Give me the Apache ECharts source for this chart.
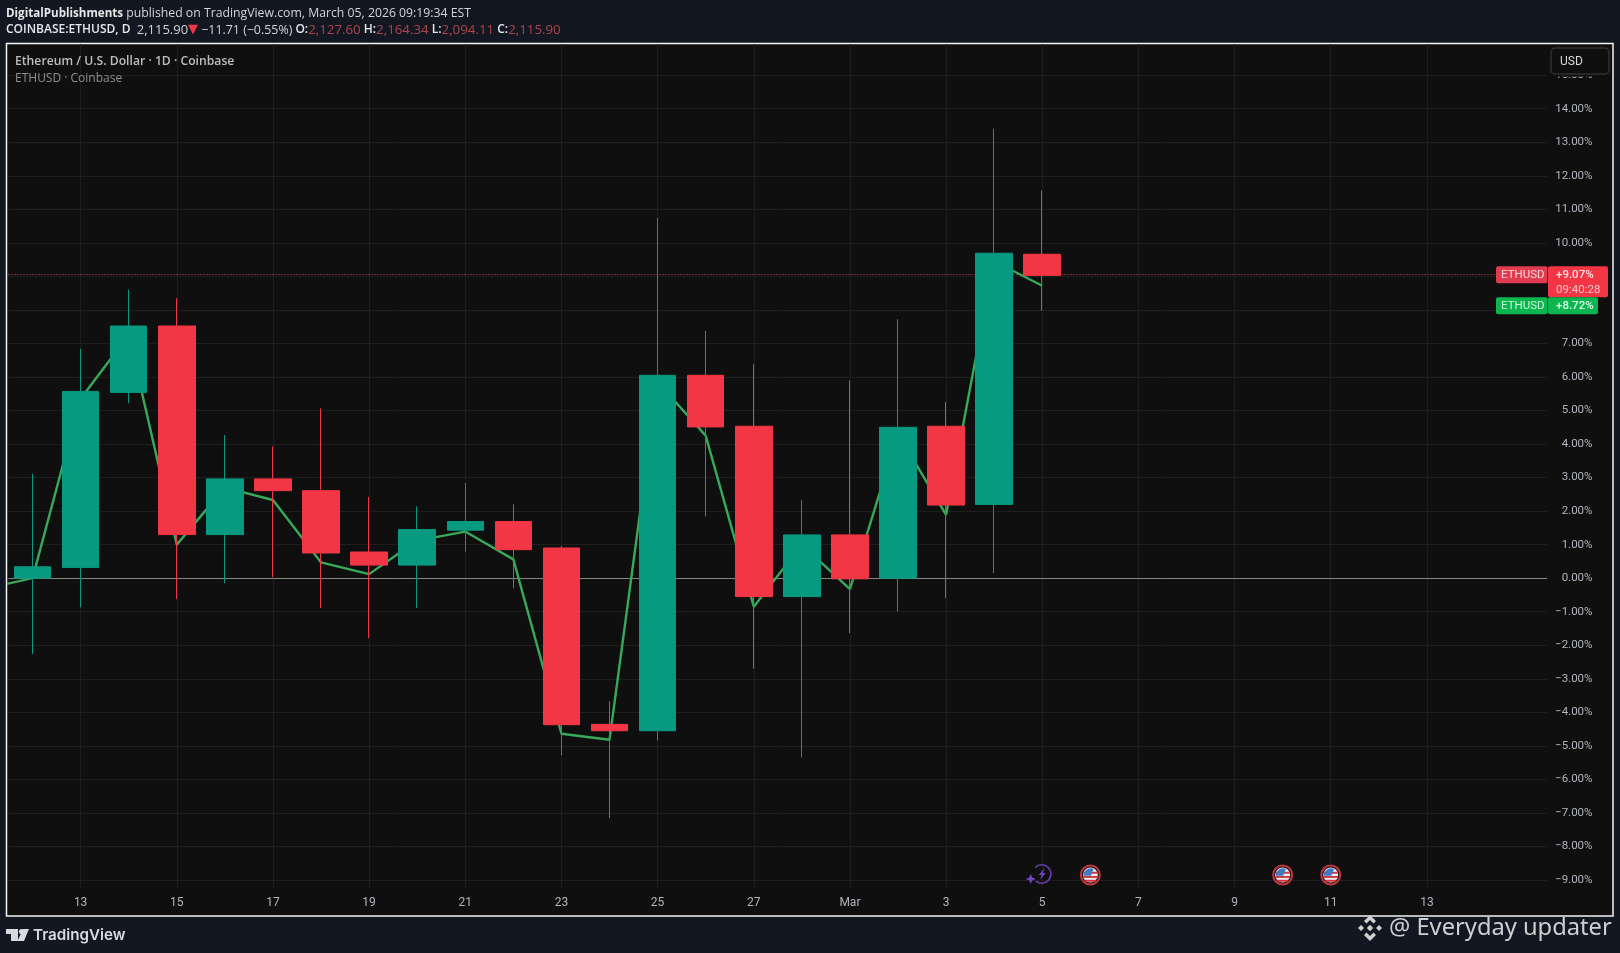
<!DOCTYPE html>
<html>
<head>
<meta charset="utf-8">
<style>html,body{margin:0;padding:0;background:#131722;}#c{width:1620px;height:953px;}</style>
<script src="https://cdn.jsdelivr.net/npm/echarts@6/dist/echarts.min.js"></script>
</head>
<body>
<div id="c"></div>
<script>
// Day labels along the time axis (12 Feb .. 15 Mar 2026)
const dayLabels = ['12','13','14','15','16','17','18','19','20','21','22','23','24','25','26','27','28','Mar','2','3','4','5','6','7','8','9','10','11','12','13','14','15'];
// Candle values in % against the first visible close
const opens  = [0,0.32,5.54,7.52,1.3,2.96,2.61,0.78,0.39,1.43,1.69,0.9,-4.36,-4.55,6.05,4.53,-0.55,1.29,0,4.53,2.2,9.66];
const closes = [0.34,5.57,7.52,1.3,2.96,2.61,0.75,0.39,1.45,1.69,0.85,-4.37,-4.55,6.05,4.51,-0.55,1.29,-0.02,4.5,2.18,9.69,9.03];
const lows   = [-2.26,-0.87,5.22,-0.62,-0.15,0.03,-0.89,-1.79,-0.89,0.79,-0.3,-5.28,-7.16,-4.84,1.84,-2.7,-5.35,-1.64,-0.99,-0.6,0.15,7.97];
const highs  = [3.11,6.84,8.6,8.35,4.27,3.93,5.06,2.42,2.14,2.84,2.2,0.96,-3.67,10.74,7.38,6.39,2.33,5.9,7.72,5.25,13.4,11.56];
// Comparison line, first value is the day before the first visible candle
const lineValues = [-0.32,0,5.35,7.25,1.0,2.7,2.33,0.47,0.12,1.12,1.39,0.56,-4.64,-4.82,5.85,4.25,-0.85,1.0,-0.33,4.31,1.89,9.45,8.72];
const yTicks = [-9,-8,-7,-6,-5,-4,-3,-2,-1,0,1,2,3,4,5,6,7,8,9,10,11,12,13,14,15];
const lastPrice = 9.07, lineLast = 8.72;
const flagDays = [22,26,27];   // US event icons, index into dayLabels
const boltDay = 21;            // earnings-style icon

const UP='#089981', DOWN='#f23645', GRID='#1e1e1e', TXT='#b2b5be';
const FONT='"Open Sans","Noto Sans",Roboto,sans-serif';
const chart = echarts.init(document.getElementById('c'),null,{renderer:'canvas'});

const fmtPct = v => (v<0?'\u2212':'')+Math.abs(v).toFixed(2)+'%';
const showDay = i => i%2===1 && i<31;

chart.setOption({
  animation:false,
  backgroundColor:'#131722',
  grid:[
    {show:true,left:6.5,top:43.5,width:1606.5,height:872.5,backgroundColor:'#0f0f0f',borderColor:'#f4f4f4',borderWidth:1.5},
    {left:8.5,top:44,right:72.9,bottom:65}
  ],
  xAxis:[
    {gridIndex:0,type:'value',show:false,min:0,max:1},
    {gridIndex:1,type:'category',data:dayLabels,boundaryGap:true,
      axisLine:{show:false},axisTick:{show:false},
      axisLabel:{color:TXT,fontFamily:'Roboto',fontSize:12,margin:9,interval:showDay},
      splitLine:{show:true,alignWithLabel:true,interval:showDay,lineStyle:{color:GRID,width:1}}},
    {gridIndex:1,type:'value',show:false,min:-0.5,max:31.5}
  ],
  yAxis:[
    {gridIndex:0,type:'value',show:false,min:0,max:1},
    {gridIndex:1,type:'value',position:'right',min:-9.24,max:15.93,
      axisLine:{show:false},
      axisTick:{show:false,customValues:yTicks},
      axisLabel:{customValues:yTicks,color:TXT,fontFamily:'Roboto',fontSize:11.5,align:'right',margin:45.4,padding:[2,0,0,0],formatter:fmtPct},
      splitLine:{show:true,lineStyle:{color:GRID,width:1}}}
  ],
  series:[
    {type:'line',xAxisIndex:2,yAxisIndex:1,z:1,symbol:'none',clip:true,
      data:lineValues.map((v,i)=>[i-1,v]),
      lineStyle:{color:'#38a85a',width:2.4},
      markLine:{silent:true,z:1,symbol:'none',label:{show:false},animation:false,
        data:[
          {yAxis:0,lineStyle:{color:'#85887f',type:'solid',width:1}},
          {yAxis:lastPrice,lineStyle:{color:'#d0505c',type:[1,2],width:1}}
        ]}
    },
    {type:'candlestick',xAxisIndex:1,yAxisIndex:1,z:3,barWidth:37,
      data:opens.map((o,i)=>[o,closes[i],lows[i],highs[i]]),
      itemStyle:{color:UP,color0:DOWN,borderColor:UP,borderColor0:DOWN,borderWidth:1}
    }
  ]
});

// --- annotation layer, positioned through the chart's scales where it follows data
const yPx = v => chart.convertToPixel({yAxisIndex:1},v);
const xPx = i => chart.convertToPixel({xAxisIndex:1},i);
const Z = 50;
const txt = (x,y,rich,extra) => Object.assign({type:'text',z:Z+5,x,y,silent:true,style:Object.assign({text:rich,verticalAlign:'middle',fontFamily:FONT},extra||{})});
const rect = (x,y,w,h,fill,r,stroke,z) => ({type:'rect',z:z||Z,silent:true,shape:{x,y,width:w,height:h,r:r||0},style:{fill:fill,stroke:stroke||null,lineWidth:stroke?1.5:0}});
const poly = (pts,fill) => ({type:'polygon',z:Z,silent:true,shape:{points:pts},style:{fill}});
const circ = (cx,cy,r,fill,stroke,lw) => ({type:'circle',z:Z+1,silent:true,shape:{cx,cy,r},style:{fill:fill||'none',stroke:stroke||null,lineWidth:lw||0}});

const els = [];
// header
els.push(txt(6,13.5,'{b|DigitalPublishments} {n|published on TradingView.com, March 05, 2026 09:19:34 EST}',{rich:{
  b:{fontFamily:FONT,fontSize:11.6,fontWeight:700,fill:'#e6e6e6'},n:{fontFamily:FONT,fontSize:12.25,fill:'#d4d4d4'}}}));
els.push(txt(6,30,'{b|COINBASE:ETHUSD, D}  {v|2,115.90}{r|\u25BC} {n|\u221211.71 (\u22120.55%)} {b|O:}{m|2,127.60} {b|H:}{m|2,164.34} {b|L:}{m|2,094.11} {b|C:}{m|2,115.90}',{rich:{
  b:{fontFamily:FONT,fontSize:12,fontWeight:600,fill:'#e6e6e6'},n:{fontFamily:FONT,fontSize:12.4,fill:'#d4d4d4'},v:{fontFamily:FONT,fontSize:13,fill:'#d4d4d4'},
  r:{fontFamily:'"DejaVu Sans"',fontSize:13,fill:'#f23645'},m:{fontFamily:FONT,fontSize:13.3,fill:'#b0434a'}}}));
// pane legend
els.push(txt(15,61.5,'Ethereum / U.S. Dollar \u00B7 1D \u00B7 Coinbase',{fontSize:12.2,fontWeight:600,fill:'#bdbdbd'}));
els.push(txt(15,78.5,'ETHUSD \u00B7 Coinbase',{fontSize:12,fill:'#8f8f8f'}));
// USD box
els.push(rect(1549,46,62,30.5,'#0f0f0f',0,null,Z));
els.push(rect(1551,48,58,26,'#0f0f0f',4,'#2f2f2f',Z+1));
els.push(txt(1560,62,'USD',{fontFamily:'Roboto',fontSize:12,fill:'#d8d8d8'}));
// price tags
const yP = yPx(lastPrice)+0.8;
const yT = yP + 31;   // the second tag is pushed below the first, as on the source chart
els.push(rect(1496,yP-8.5,51.5,17,'#e03c50',2));
els.push(txt(1501,yP,'ETHUSD',{fontFamily:'Roboto',fontSize:11.5,fill:'#ffd5da'}));
els.push(rect(1548,yP-8.5,60,31,'#f23645',2));
els.push(txt(1556,yP+0.5,'+'+fmtPct(lastPrice),{fontFamily:'Roboto',fontSize:11.5,fontWeight:500,fill:'#ffe4e6'}));
els.push(txt(1556,yP+15,'09:40:28',{fontFamily:'Roboto',fontSize:11.5,fill:'#ffc4ca'}));
els.push(rect(1496,yT-8.5,51.5,17,'#0bb54f',2));
els.push(txt(1501,yT,'ETHUSD',{fontFamily:'Roboto',fontSize:11.5,fill:'#c8f5d8'}));
els.push(rect(1548,yT-8.5,50,17,'#0bb54f',2));
els.push(txt(1556,yT,'+'+fmtPct(lineLast),{fontFamily:'Roboto',fontSize:11.5,fontWeight:500,fill:'#dcfbe7'}));
// event icons
const iconY = 875;
flagDays.forEach(d=>{
  const cx = xPx(d);
  els.push(circ(cx,iconY,9.5,'#0f0f0f','#c2373f',2));
  els.push(circ(cx,iconY,7.5,'#ecedf2'));
  [[-3.2,14],[1,14.5],[4.8,11]].forEach(([dy,w])=>els.push(rect(cx-w/2,iconY+dy,w,1.9,'#d5323c',0,null,Z+2)));
  els.push({type:'sector',z:Z+3,silent:true,shape:{cx:cx+0.6,cy:iconY+0.8,r:7.6,r0:0,startAngle:Math.PI,endAngle:Math.PI*1.62},style:{fill:'#3f78c4'}});
});
const bx = xPx(boltDay)-0.5;
els.push({type:'arc',z:Z,silent:true,shape:{cx:bx,cy:iconY-1,r:9.2,startAngle:-Math.PI*0.75,endAngle:Math.PI*0.72},style:{stroke:'#6a3fb0',lineWidth:1.6,fill:'none'}});
els.push(poly([[bx+3,iconY-7],[bx-3,iconY],[bx,iconY],[bx-2,iconY+5],[bx+4,iconY-2],[bx+1,iconY-2]],'#6f45c4'));
els.push(poly([[bx-11,iconY-1],[bx-9.5,iconY+2.5],[bx-6,iconY+4],[bx-9.5,iconY+5.5],[bx-11,iconY+9],[bx-12.5,iconY+5.5],[bx-16,iconY+4],[bx-12.5,iconY+2.5]],'#6f45c4'));
// TradingView logo
els.push(poly([[6,929],[18,929],[18,941],[11,941],[11,934],[6,934]],'#d8dae0'));
els.push(circ(21.5,931.5,2.6,'#d8dae0'));
els.push(poly([[23,929],[29,929],[24,941],[17.5,941]],'#d8dae0'));
els.push(txt(33,935,'TradingView',{fontFamily:'Inter',fontSize:15.2,fontWeight:600,fill:'#d8dae0'}));
// watermark
const wx=1370, wy=928, wc='#d0d0d0';
const dia=(cx,cy,r)=>poly([[cx,cy-r],[cx+r,cy],[cx,cy+r],[cx-r,cy]],wc);
els.push(dia(wx,wy,3.2),dia(wx-9,wy,3),dia(wx+9,wy,3));
els.push(poly([[wx,wy-13],[wx+6,wy-7],[wx+3.5,wy-4.5],[wx,wy-8],[wx-3.5,wy-4.5],[wx-6,wy-7]],wc));
els.push(poly([[wx,wy+13],[wx+6,wy+7],[wx+3.5,wy+4.5],[wx,wy+8],[wx-3.5,wy+4.5],[wx-6,wy+7]],wc));
els.push(txt(1389,928,'@ Everyday updater',{fontFamily:'"Noto Sans"',fontSize:23.7,fill:'#cfcfcf'}));

chart.setOption({graphic:{elements:els}});
</script>
</body>
</html>
